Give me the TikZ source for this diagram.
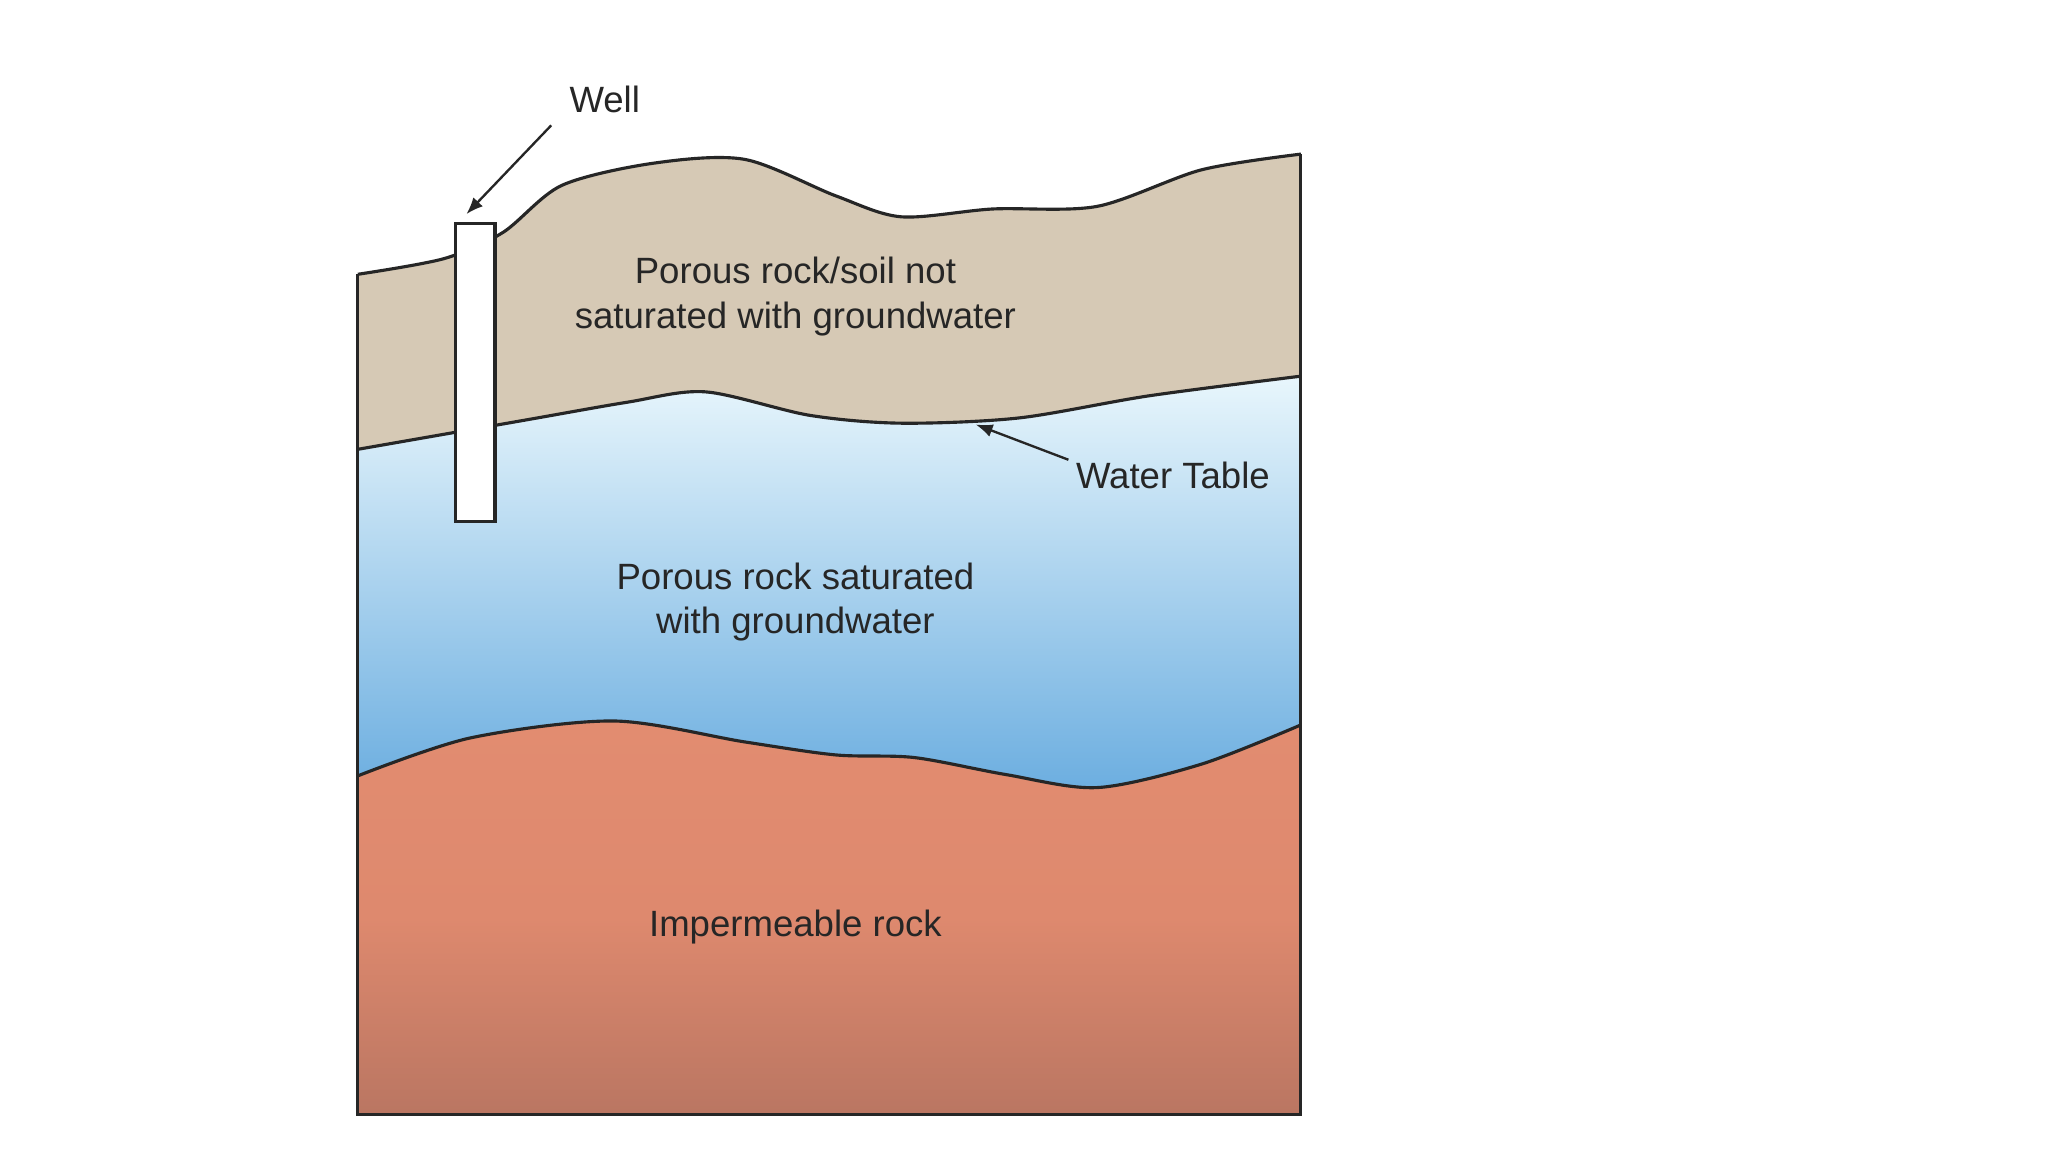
\documentclass[tikz,border=0pt]{standalone}
\usepackage{fontspec}
\setmainfont{Liberation Sans}
\usetikzlibrary{arrows.meta}
\begin{document}
\begin{tikzpicture}[x=1pt,y=-1pt,
  lbl/.style={font=\fontsize{28}{34}\selectfont,align=center,text=black!85},
  edge/.style={draw=black!85,line width=2.4pt},
  arr/.style={draw=black!85,line width=1.8pt,-{Latex[length=13pt,width=10pt]}}]
\useasboundingbox[fill=white] (0,0) rectangle (1568,882);
\def\surf{(274,210) (340,198) (385,178) (430,142) (500,125) (570,122) (640,150) (690,166) (760,160) (840,158) (920,130) (996,118)}
\def\wt{(996,288) (880,303) (780,320) (690,324) (620,318) (540,300) (480,308) (400,322) (274,344)}
\def\rt{(274,594) (360,565) (470,552) (570,568) (640,578) (700,580) (770,593) (840,603) (920,585) (996,555)}
\path[fill={rgb,255:red,214;green,201;blue,181}] plot[smooth] coordinates {\surf} -- plot[smooth] coordinates {\wt} -- cycle;
\path[top color={rgb,255:red,232;green,246;blue,252}, bottom color={rgb,255:red,108;green,174;blue,224}]
  (996,288) -- plot[smooth] coordinates {\wt} -- (274,594) -- plot[smooth] coordinates {\rt} -- cycle;
\path[top color={rgb,255:red,226;green,140;blue,112}, bottom color={rgb,255:red,186;green,118;blue,98}, middle color={rgb,255:red,222;green,137;blue,110}]
  plot[smooth] coordinates {\rt} -- (996,853) -- (274,853) -- cycle;
\draw[edge] plot[smooth] coordinates {\surf};
\draw[edge] plot[smooth] coordinates {\wt};
\draw[edge] plot[smooth] coordinates {\rt};
\draw[edge] (274,210) -- (274,853) -- (996,853) -- (996,118);
\node[draw=black!85,line width=2.4pt,fill=white,minimum width=30pt,minimum height=228pt,inner sep=0pt] (well) at (364,285) {};
\node[lbl] (welll) at (463,76) {Well};
\coordinate (wa) at (422,96);
\coordinate (wb) at (357,164);
\draw[arr] (wa) -- (wb);
\node[lbl] (t1) at (609,227) {Porous rock/soil not\\saturated with groundwater};
\node[lbl] (t2) at (609,461) {Porous rock saturated\\with groundwater};
\node[lbl] (t3) at (609,710) {Impermeable rock};
\node[lbl] (wtl) at (898,364) {Water Table};
\coordinate (wts) at (818,352);
\coordinate (wtp) at (747,325);
\draw[arr] (wts) -- (wtp);
\end{tikzpicture}
\end{document}
